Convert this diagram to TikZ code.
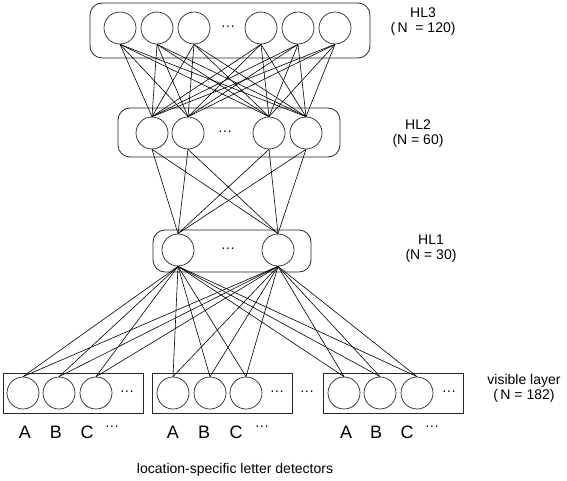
\documentclass[tikz,border=0pt]{standalone}
\usepackage{fontspec}
\setmainfont{Liberation Sans}
\usepackage{tikz}
\colorlet{wire}{black}
\colorlet{unitline}{black!85}

\begin{document}
\begin{tikzpicture}[x=1pt,y=-1pt,
  neuron/.style={draw=unitline,circle,minimum size=32pt,inner sep=0pt,line width=0.7pt},
  hiddenbox/.style={draw=unitline,rounded corners=12pt,line width=0.8pt},
  visiblebox/.style={draw=unitline,line width=0.8pt},
  link/.style={draw=wire,line width=0.6pt},
  layerlabel/.style={align=center,font=\fontsize{14}{15}\selectfont,inner sep=0pt},
  letter/.style={font=\fontsize{18}{18}\selectfont,inner sep=0pt},
  moredots/.style={font=\fontsize{14}{14}\selectfont,inner sep=0pt},
]
\useasboundingbox (0,0) rectangle (567,481);
% layer boxes
\draw[hiddenbox] (90,3) rectangle (370,58);
\draw[hiddenbox] (118,108) rectangle (340,157);
\draw[hiddenbox] (153,230) rectangle (311,272);
\foreach \x in {3,152,323} {
  \draw[visiblebox] (\x,373) rectangle ++(140,40);
}
% units
\foreach[count=\k] \x in {120,157,194,261,298,335} {
  \node[neuron] (h3-\k) at (\x,28) {};
}
\foreach[count=\k] \x in {152,188,269,306} {
  \node[neuron] (h2-\k) at (\x,133) {};
}
\foreach[count=\k] \x in {178,278} {
  \node[neuron] (h1-\k) at (\x,250) {};
}
\foreach[count=\k] \x in {23,59,96,173,210,246,344,380,417} {
  \node[neuron] (v-\k) at (\x,393) {};
}
\newcommand\mydots{\textperiodcentered\textperiodcentered\textperiodcentered}
\node[moredots] (d3) at (228,28) {\mydots};
\node[moredots] (d2) at (225,133) {\mydots};
\node[moredots] (d1) at (228,250) {\mydots};
\foreach[count=\k] \x in {127,277,449,307} {
  \node[moredots] (dv-\k) at (\x,393) {\mydots};
}
% connections
\foreach \i in {1,...,6} {
  \foreach \j in {1,...,4} {
    \draw[link] (h3-\i.south) -- (h2-\j.north);
  }
}
\foreach \i in {1,...,4} {
  \foreach \j in {1,2} {
    \draw[link] (h2-\i.south) -- (h1-\j.north);
  }
}
\foreach \i in {1,2} {
  \foreach \j in {1,...,9} {
    \draw[link] (h1-\i.south) -- (v-\j.north);
  }
}
% letters under the visible units
\foreach[count=\k] \x/\c in {25/A,56/B,87/C,173/A,204/B,236/C,346/A,376/B,407/C} {
  \node[letter] (ltr-\k) at (\x,432) {\c};
}
\foreach[count=\k] \x in {112,262,432} {
  \node[moredots] (dl-\k) at (\x,428) {\mydots};
}
% labels
\node[layerlabel] (lab-h3) at (423,22) {HL3\\(\,N\ \ = 120)};
\node[layerlabel] (lab-h2) at (418,134) {HL2\\(N = 60)};
\node[layerlabel] (lab-h1) at (431,249) {HL1\\(N = 30)};
\node[layerlabel] (lab-v) at (524,388) {visible layer\\(\,N = 182)};
\node[layerlabel] (caption) at (235,470) {location-specific letter detectors};
\end{tikzpicture}
\end{document}
